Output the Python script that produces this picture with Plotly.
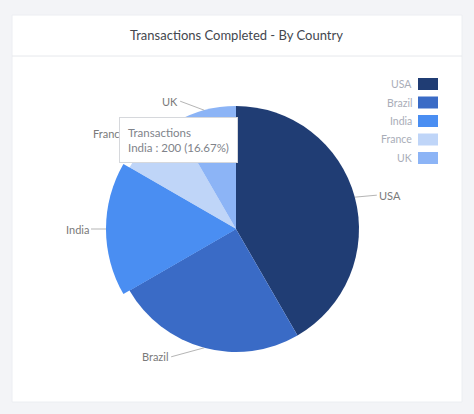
import math
import plotly.graph_objects as go

# data
countries = ["USA", "Brazil", "India", "France", "UK"]
transactions = [500, 300, 200, 100, 100]
colors = ["#203d74", "#3a6bc6", "#4a8ef2", "#bfd5f8", "#8cb4f6"]
hover_country = "India"

W, H = 474, 414
cx, cy, r = 236, 229, 123  # pie centre / radius in px


def px_x(x):
    return x / W


def px_y(y):
    return 1 - y / H


fig = go.Figure()

fig.add_trace(go.Pie(
    labels=countries,
    values=transactions,
    marker=dict(colors=colors, line=dict(width=0)),
    sort=False,
    direction="clockwise",
    rotation=0,
    textinfo="none",
    hoverinfo="label+value+percent",
    showlegend=False,
    domain=dict(x=[px_x(cx - r), px_x(cx + r)], y=[px_y(cy + r), px_y(cy - r)]),
))

# the hovered slice is drawn a little larger
r2 = r + 7
hl_colors = [c if n == hover_country else "rgba(0,0,0,0)" for n, c in zip(countries, colors)]
fig.add_trace(go.Pie(
    labels=countries,
    values=transactions,
    marker=dict(colors=hl_colors, line=dict(width=0)),
    sort=False,
    direction="clockwise",
    rotation=0,
    textinfo="none",
    hoverinfo="skip",
    showlegend=False,
    domain=dict(x=[px_x(cx - r2), px_x(cx + r2)], y=[px_y(cy + r2), px_y(cy - r2)]),
))

shapes = [
    # card
    dict(type="rect", xref="paper", yref="paper", x0=px_x(12), x1=px_x(462), y0=px_y(402), y1=px_y(15),
         fillcolor="white", line=dict(color="#eceef2", width=1), layer="below"),
    dict(type="line", xref="paper", yref="paper", x0=px_x(12), x1=px_x(462), y0=px_y(56), y1=px_y(56),
         line=dict(color="#e6e8ec", width=1)),
]

annotations = [
    dict(text="Transactions Completed - By Country", xref="paper", yref="paper",
         x=px_x(236), y=px_y(35), xanchor="center", yanchor="middle", showarrow=False,
         font=dict(family="Lato", size=13, color="#44474e")),
]

# outside labels with leader lines (leader length per label, px)
leader = {"USA": (22, -2), "Brazil": (-33, 9), "India": (-15, 0), "France": (-22, -9), "UK": (-24, -9)}
total = sum(transactions)
start = 0
for name, v in zip(countries, transactions):
    mid = (start + v / 2) / total * 2 * math.pi
    start += v
    rr = r2 if name == hover_country else r
    ex = cx + rr * math.sin(mid)
    ey = cy - rr * math.cos(mid)
    ax, ay = leader[name]
    annotations.append(dict(
        text=name, xref="paper", yref="paper", x=px_x(ex), y=px_y(ey),
        ax=ax, ay=ay, showarrow=True, arrowhead=0, arrowwidth=1, arrowcolor="#b5b5b5",
        xanchor="left" if ax > 0 else "right", yanchor="middle", standoff=0,
        font=dict(family="Lato", size=11, color="#7a7a7a"),
    ))

# legend at the right: text, then swatch
for i, (name, c) in enumerate(zip(countries, colors)):
    yy = 84 + i * 18.5
    annotations.append(dict(
        text=name, xref="paper", yref="paper", x=px_x(414), y=px_y(yy),
        xanchor="right", yanchor="middle", showarrow=False,
        font=dict(family="Lato", size=10.5, color="#a9adb8"),
    ))
    shapes.append(dict(type="rect", xref="paper", yref="paper",
                       x0=px_x(418), x1=px_x(438), y0=px_y(yy + 6), y1=px_y(yy - 6),
                       fillcolor=c, line=dict(width=0)))

# tooltip
pct = transactions[countries.index(hover_country)] / total * 100
annotations.append(dict(
    text=f"Transactions<br>{hover_country} : {transactions[countries.index(hover_country)]} ({pct:.2f}%)",
    xref="paper", yref="paper", x=px_x(119), y=px_y(117), xanchor="left", yanchor="top",
    align="left", showarrow=False, bgcolor="white", bordercolor="#d6d8dc", borderwidth=1, borderpad=8,
    font=dict(family="Lato", size=11.5, color="#80838a"),
))

fig.update_layout(
    width=W, height=H,
    margin=dict(l=0, r=0, t=0, b=0),
    paper_bgcolor="#f3f4f7",
    shapes=shapes,
    annotations=annotations,
)

fig.write_html("out.html", config={"displayModeBar": False},
               post_script="document.body.style.margin='0';")
